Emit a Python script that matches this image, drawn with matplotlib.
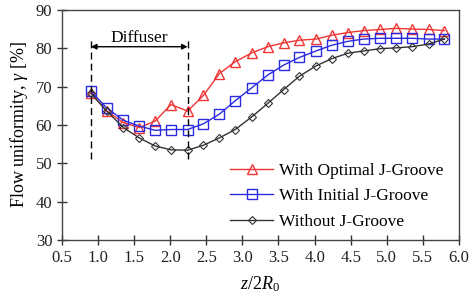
import matplotlib
matplotlib.use("Agg")
import matplotlib.pyplot as plt

plt.rcParams['font.family'] = ['Liberation Serif', 'DejaVu Serif']
plt.rcParams['mathtext.fontset'] = 'custom'
plt.rcParams['mathtext.rm'] = 'Liberation Serif'
plt.rcParams['mathtext.it'] = 'Liberation Serif:italic'

# z/2R0 positions of the sampled sections
z = [0.90, 1.12, 1.35, 1.57, 1.79, 2.01, 2.24, 2.46, 2.68, 2.90, 3.13, 3.35,
     3.57, 3.79, 4.02, 4.24, 4.46, 4.68, 4.91, 5.13, 5.35, 5.58, 5.80]

# flow uniformity [%]
optimal = [68.3, 63.6, 60.6, 59.3, 61.0, 65.3, 63.6, 67.7, 73.4, 76.5, 78.8, 80.4,
           81.4, 82.1, 82.4, 83.4, 84.1, 84.6, 84.9, 85.2, 85.0, 84.9, 84.6]
initial = [68.8, 64.4, 61.2, 59.7, 58.6, 58.8, 58.8, 60.3, 62.8, 66.3, 69.7, 73.0,
           75.6, 77.6, 79.3, 80.8, 81.8, 82.4, 82.6, 82.6, 82.6, 82.4, 82.4]
without = [68.2, 63.6, 59.3, 56.6, 54.5, 53.5, 53.4, 54.7, 56.6, 58.8, 62.1, 65.6,
           69.2, 72.7, 75.4, 77.3, 78.7, 79.3, 79.9, 80.1, 80.4, 81.1, 82.4]

diffuser_start = 0.90
diffuser_end = 2.24

fig = plt.figure(figsize=(4.74, 3.01), dpi=100)
ax = fig.add_axes([0.131, 0.203, 0.837, 0.764])

ax.plot(z, optimal, color='#F03535', lw=1, marker='^', ms=7.5, mfc='none',
        mew=1, label='With Optimal J-Groove')
ax.plot(z, initial, color='#2A2AE0', lw=1, marker='s', ms=7, mfc='none',
        mew=1, label='With Initial J-Groove')
ax.plot(z, without, color='#333333', lw=1, marker='D', ms=4.5, mfc='none',
        mew=0.8, label='Without J-Groove')

# diffuser region
for xv in [diffuser_start, diffuser_end]:
    ax.plot([xv, xv], [51, 82.5], color='black', lw=1, ls=(0, (5, 3)))
ax.annotate('', xy=(diffuser_start, 80.4), xytext=(diffuser_end, 80.4),
            arrowprops=dict(arrowstyle='<|-|>', color='black', lw=1,
                            mutation_scale=8, shrinkA=0, shrinkB=0))
ax.text((diffuser_start + diffuser_end) / 2, 80.5, 'Diffuser', ha='center',
        va='bottom', fontsize=12.5)

ax.set_xlim(0.5, 6.0)
ax.set_ylim(30, 90)
ax.set_xticks([0.5, 1.0, 1.5, 2.0, 2.5, 3.0, 3.5, 4.0, 4.5, 5.0, 5.5, 6.0])
ax.set_yticks([30, 40, 50, 60, 70, 80, 90])
ax.set_xticklabels(['0.5', '1.0', '1.5', '2.0', '2.5', '3.0', '3.5', '4.0',
                    '4.5', '5.0', '5.5', '6.0'])
ax.tick_params(direction='inout', length=7, width=1, labelsize=12,
               colors='#333333', labelcolor='#222222')
for s in ax.spines.values():
    s.set_color('#444444')
    s.set_linewidth(1)

ax.set_xlabel(r'$z$/2$R_0$', fontsize=13, labelpad=6)
ax.set_ylabel(r'Flow uniformity, $\gamma$ [%]', fontsize=13, labelpad=4)

ax.legend(loc='lower right', bbox_to_anchor=(1.0, -0.025), frameon=False,
          fontsize=12.5, handlelength=2.5, labelspacing=0.55, handletextpad=0.3)

fig.savefig('out.png', dpi=100)
